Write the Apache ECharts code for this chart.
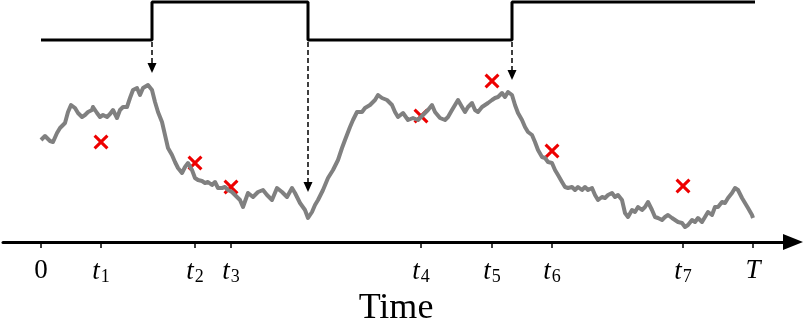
<!DOCTYPE html>
<html><head><meta charset="utf-8">
<script src="https://cdn.jsdelivr.net/npm/echarts@6/dist/echarts.min.js"></script>
<style>html,body{margin:0;padding:0;background:#fff}#c{width:805px;height:319px}</style>
</head><body><div id="c"></div>
<script>
// ---- data ----
const tickTimes = [0, 60, 154, 190, 380, 451, 511, 642, 712];
const tickLabels = ['0', 't1', 't2', 't3', 't4', 't5', 't6', 't7', 'T'];

const markerTimes = [60, 154, 190, 380, 451, 511, 642];
const markerValues = [100, 79, 55, 126, 161, 91, 56];

const stepTimes = [0, 111, 267, 471, 714];
const stepLevels = [202, 240, 202, 240, 240];

const switchTimes = [111, 267, 471];
const arrowFrom = 200;
const arrowTo = [174, 55, 167];

const pathT = [0,1,4,6,9,12,16,19,24,27,30,34,37,41,44,47,51,52,56,59,62,66,69,72,76,79,82,86,89,92,96,99,102,107,111,114,117,121,124,127,131,134,137,141,144,147,151,154,157,161,164,167,171,174,177,181,184,187,191,196,199,202,207,212,217,222,226,231,236,241,246,251,254,259,264,267,271,274,277,282,287,292,297,301,304,309,312,316,321,324,329,334,337,341,346,351,354,357,362,367,372,377,382,387,391,394,399,404,407,411,414,417,421,424,427,431,434,437,441,444,447,451,454,457,461,464,467,471,474,477,481,484,487,491,494,497,501,504,507,511,514,517,521,524,527,531,534,537,541,544,547,551,554,557,561,564,567,571,574,577,581,584,587,591,594,597,601,604,607,611,614,617,621,624,627,631,634,637,641,644,647,651,654,657,661,664,667,671,674,677,681,684,687,691,694,697,701,704,707,711,712];
const pathV = [102,104,106,105,101,100,109,114,119,130,137,134,129,125,127,130,132,135,129,125,127,125,128,132,124,132,135,135,144,152,154,147,154,157,152,140,130,120,107,94,87,80,74,69,75,79,72,64,62,61,59,60,57,60,54,54,55,52,50,45,42,35,49,45,50,52,47,42,54,50,45,54,49,39,32,24,30,37,42,52,64,72,82,94,102,115,122,130,130,134,137,142,147,144,142,137,130,125,129,122,124,122,127,132,137,130,124,122,125,132,137,142,135,130,135,139,132,130,135,137,139,142,144,145,149,145,150,147,137,129,122,115,110,107,100,92,85,84,80,79,72,67,60,55,54,55,52,55,52,55,52,54,47,42,45,44,47,49,45,47,42,29,25,32,30,35,32,35,40,32,25,24,22,25,27,24,22,20,19,15,17,22,20,24,20,25,30,27,35,35,40,39,44,49,54,52,44,39,34,27,24];

// ---- chart ----
const serif = 'Liberation Serif';
const chart = echarts.init(document.getElementById('c'), null, {renderer: 'canvas'});
const zip = (a, b) => a.map((v, i) => [v, b[i]]);

chart.setOption({
  animation: false,
  backgroundColor: '#fff',
  grid: {left: 3, right: 12, top: 0, bottom: 77, containLabel: false, outerBoundsMode: 'none'},
  xAxis: {
    type: 'value', min: -38, max: 752,
    splitLine: {show: false},
    axisLine: {show: true, symbol: ['none', 'triangle'], symbolSize: [16, 20],
      lineStyle: {color: '#000', width: 3}},
    axisTick: {show: true, customValues: tickTimes, length: 6, lineStyle: {color: '#000', width: 1.5}},
    axisLabel: {
      show: true, customValues: tickTimes, margin: 15,
      formatter: function (v) {
        const i = tickTimes.indexOf(Math.round(v));
        if (i < 0) return '';
        const s = tickLabels[i];
        if (s === '0') return '{rm|0}';
        if (s.length === 1) return '{it|' + s + '}';
        return '{it|' + s[0] + '}{sub|' + s.slice(1) + '}';
      },
      rich: {
        rm: {fontFamily: serif, fontSize: 27, color: '#000'},
        it: {fontFamily: serif, fontStyle: 'italic', fontSize: 27, color: '#000'},
        sub: {fontFamily: serif, fontSize: 18, color: '#000', padding: [11, 0, 0, 1]}
      }
    },
    name: 'Time', nameLocation: 'middle', nameGap: 47,
    nameTextStyle: {fontFamily: serif, fontSize: 36, color: '#000', padding: [0, 4, 0, 0]}
  },
  yAxis: {type: 'value', min: 0, max: 242, show: false},
  series: [
    {
      type: 'line', data: zip(stepTimes, stepLevels), step: 'end',
      showSymbol: false, clip: false, silent: true,
      lineStyle: {color: '#000', width: 3},
      markLine: {
        silent: true, animation: false,
        symbol: ['none', 'triangle'], symbolSize: [9, 10],
        label: {show: false},
        lineStyle: {color: '#000', width: 1.5, type: [5, 3]},
        data: switchTimes.map((t, i) => [{coord: [t, arrowFrom]}, {coord: [t, arrowTo[i]]}])
      }
    },
    {
      type: 'line', data: zip(pathT, pathV),
      showSymbol: false, clip: false, silent: true,
      lineStyle: {color: '#808080', width: 4, join: 'round'}
    },
    {
      type: 'scatter', data: zip(markerTimes, markerValues),
      symbol: 'path://M0,2L2,0L7,5L12,0L14,2L9,7L14,12L12,14L7,9L2,14L0,12L5,7Z',
      symbolSize: 15, silent: true,
      itemStyle: {color: '#ee0000', opacity: 1}
    }
  ]
});
</script></body></html>
